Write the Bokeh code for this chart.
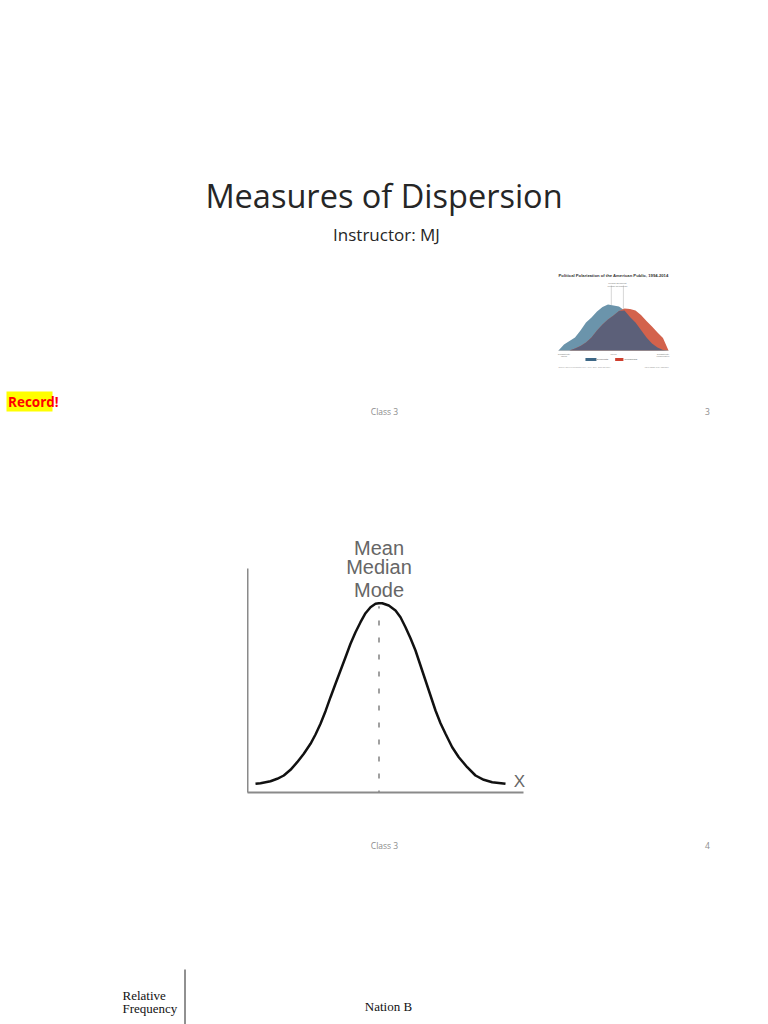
import numpy as np
from bokeh.plotting import figure
from bokeh.models import Range1d, LinearAxis, Spacer, FixedTicker
from bokeh.layouts import column, row
from bokeh.core.properties import value
from bokeh.embed import file_html
from bokeh.resources import INLINE

# ---------------- data ----------------
# Slide 4: bell curve (x = distance from vertical axis, y = height above horizontal axis)
bell_x = [8, 13, 23, 29.7, 36.3, 43, 49.7, 56.3, 63, 68, 73, 78, 83, 88, 93, 98,
          103, 108, 113, 118, 123, 128, 131.3, 134.7, 141.3, 148, 153, 158, 163,
          168, 173, 178, 183, 188, 193, 198, 204.7, 211.3, 219.7, 228, 236.3,
          244.7, 258]
bell_y = [8.7, 9.3, 11.3, 13.7, 17, 22.7, 30.3, 38.7, 48.7, 58, 68.7, 81.3, 95.3,
          108.7, 122, 135.3, 148.7, 160.3, 170.3, 179.3, 185.3, 188.7, 189.3,
          189.3, 187, 182, 175.3, 165.3, 154.3, 142, 127, 112, 97, 82, 69.3,
          58.7, 45.3, 35.3, 25.3, 17, 12.7, 10.3, 8.7]
center_x = 131.5
center_labels = ["Mean", "Median", "Mode"]
x_axis_text = "X"

# Slide 3 thumbnail: Pew "Political Polarization of the American Public, 1994-2014"
ideology = list(range(-10, 11))
dem_share = [0, 0.6, 0.95, 1.3, 2.0, 2.8, 3.3, 3.9, 4.35, 4.6, 4.5, 4.4, 4.0,
             3.35, 2.8, 2.05, 1.3, 0.7, 0.3, 0.05, 0]
rep_share = [0, 0, 0, 0.2, 0.45, 0.8, 1.3, 2.0, 2.6, 3.1, 3.5, 3.95, 4.2, 4.15,
             4.0, 3.55, 2.95, 2.4, 1.8, 1.25, 0]
median_dem = -0.4
median_rep = 1.8

# texts
title_text = "Measures of Dispersion"
subtitle_text = "Instructor: MJ"
record_text = "Record!"
footer_text = "Class 3"

# ---------------- helpers ----------------
W = 768
SANS = value("Open Sans")


def blank(w, h, x0, x1, y_top, y_bot):
    p = figure(width=w, height=h, x_range=Range1d(x0, x1),
               y_range=Range1d(y_bot, y_top), output_backend="svg",
               toolbar_location=None, x_axis_type=None, y_axis_type=None,
               min_border=0)
    p.outline_line_color = None
    p.background_fill_color = "white"
    p.border_fill_color = "white"
    return p


# ---------------- header (slide 3 top) ----------------
head = blank(W, 270, 0, 768, 0, 270)
head.text(x=[383.5], y=[195], text=[title_text], text_font=SANS,
          text_font_size="32.5px", text_align="center",
          text_baseline="alphabetic", text_color="#262626")
head.text(x=[386], y=[234], text=[subtitle_text], text_font=SANS,
          text_font_size="17px", text_align="center",
          text_baseline="alphabetic", text_color="#262626")

# ---------------- thumbnail chart ----------------
thumb = figure(width=120, height=102, x_range=Range1d(-10.91, 10.91),
               y_range=Range1d(-2.2, 8.0), output_backend="svg",
               toolbar_location=None, x_axis_type=None, y_axis_type=None,
               min_border=0)
thumb.outline_line_color = None
ideo = np.array(ideology, dtype=float)
dem = np.array(dem_share)
rep = np.array(rep_share)
overlap = np.minimum(dem, rep)
thumb.varea(x=ideo, y1=0, y2=dem, fill_color="#6b94ab")
thumb.varea(x=ideo, y1=0, y2=rep, fill_color="#d3624c")
thumb.varea(x=ideo, y1=0, y2=overlap, fill_color="#5c6079")
thumb.segment(x0=[ideo[0]], y0=[0], x1=[ideo[-1]], y1=[0],
              line_color="#999999", line_width=0.5)
med_x = [median_dem, median_rep]
med_top = [float(np.interp(median_dem, ideo, dem)), float(np.interp(median_rep, ideo, rep))]
thumb.segment(x0=med_x, y0=[6.5, 6.5], x1=med_x, y1=med_top,
              line_color="#bbbbbb", line_width=0.6)
thumb.text(x=[0], y=[7.5],
           text=["Political Polarization of the American Public, 1994-2014"],
           text_font=value("Liberation Sans"), text_font_style="bold",
           text_font_size="4.2px", text_align="center",
           text_baseline="middle", text_color="#333333")
thumb.text(x=[0.7, 0.7], y=[6.75, 6.45],
           text=["Median Democrat", "Median Republican"],
           text_font=value("Liberation Sans"), text_font_size="2.3px",
           text_align="center", text_baseline="middle", text_color="#777777")
thumb.text(x=[-9.0, -9.0, 0, 9.0, 9.0], y=[-0.35, -0.6, -0.35, -0.35, -0.6],
           text=["Consistently", "liberal", "Mixed", "Consistently", "conservative"],
           text_font=value("Liberation Sans"), text_font_size="2.3px",
           text_align="center", text_baseline="middle", text_color="#777777")
thumb.quad(left=[-5.1, 0.3], right=[-3.1, 1.8], top=[-0.75, -0.75],
           bottom=[-1.05, -1.05], fill_color=["#3d6786", "#cf3f2e"],
           line_color=None)
thumb.text(x=[-3.0, 2.0], y=[-0.9, -0.9], text=["Democrats", "Republicans"],
           text_font=value("Liberation Sans"), text_font_size="2.3px",
           text_align="left", text_baseline="middle", text_color="#555555")
thumb.text(x=[-10], y=[-1.7],
           text=["Source: Surveys conducted 1994, 1999, 2004, 2011 and 2014."],
           text_font=value("Liberation Sans"), text_font_size="1.9px",
           text_align="left", text_baseline="middle", text_color="#999999")
thumb.text(x=[10], y=[-1.7], text=["PEW RESEARCH CENTER"],
           text_font=value("Liberation Sans"), text_font_size="1.9px",
           text_align="right", text_baseline="middle", text_color="#999999")

thumb_row = row(Spacer(width=553, height=102), thumb, Spacer(width=95, height=102))

# ---------------- middle (Record!, footer slide 3) ----------------
mid = blank(W, 163, 0, 768, 372, 535)
mid.quad(left=[6], right=[52], top=[391], bottom=[411], fill_color="#ffff00",
         line_color=None)
mid.text(x=[7.5], y=[401.5], text=[record_text], text_font=SANS,
         text_font_style="bold", text_font_size="13.5px", text_align="left",
         text_baseline="alphabetic", text_color="#ff0000")
mid.text(x=[384, 707], y=[411, 411], text=[footer_text, "3"], text_font=SANS,
         text_font_size="8.5px", text_align="center", text_baseline="middle",
         text_color="#8c8c8c")

# ---------------- bell curve (slide 4) ----------------
bell = figure(frame_width=283, frame_height=257, x_range=Range1d(0, 283),
              y_range=Range1d(0, 257), output_backend="svg",
              toolbar_location=None, x_axis_type=None, y_axis_type=None,
              min_border=0, min_border_bottom=8)
bell.outline_line_color = None
for ax, place, bnds in ((LinearAxis(), "left", (0, 224)),
                        (LinearAxis(), "below", (0, 276))):
    ax.bounds = bnds
    ax.ticker = FixedTicker(ticks=[])
    ax.axis_line_color = "#8a8a8a"
    ax.axis_line_width = 2
    ax.major_tick_line_color = None
    ax.minor_tick_line_color = None
    ax.major_tick_out = 0
    ax.minor_tick_out = 0
    ax.major_tick_in = 0
    ax.major_label_standoff = 0
    bell.add_layout(ax, place)
peak = max(bell_y)
bell.segment(x0=[center_x], y0=[-3], x1=[center_x], y1=[peak - 3],
             line_color="#a0a0a0", line_width=2, line_dash="5 12")
bell.line(x=bell_x, y=bell_y, line_color="#111111", line_width=2.5)
bell.text(x=[center_x] * 3, y=[245, 226, 203], text=center_labels,
          text_font=value("Liberation Sans"), text_font_size="20px",
          text_align="center", text_baseline="alphabetic",
          text_color="#666666")
bell.text(x=[272], y=[11], text=[x_axis_text],
          text_font=value("Liberation Sans"), text_font_size="17px",
          text_align="center", text_baseline="middle", text_color="#666666")

bell_row = row(Spacer(width=247, height=265), bell, Spacer(width=238, height=265))

# ---------------- bottom (footer slide 4, slide 5 top) ----------------
bot = blank(W, 224, 0, 768, 800, 1024)
bot.text(x=[384, 707], y=[845, 845], text=[footer_text, "4"], text_font=SANS,
         text_font_size="8.5px", text_align="center", text_baseline="middle",
         text_color="#8c8c8c")
bot.text(x=[122, 122], y=[994.5, 1007.5], text=["Relative", "Frequency"],
         text_font=value("Liberation Serif"), text_font_size="13px",
         text_align="left", text_baseline="alphabetic", text_color="#111111")
bot.segment(x0=[184.5], y0=[969], x1=[184.5], y1=[1024], line_color="#222222",
            line_width=1)
bot.text(x=[388], y=[1006], text=["Nation B"],
         text_font=value("Liberation Serif"), text_font_size="13px",
         text_align="center", text_baseline="alphabetic", text_color="#111111")

layout = column(head, thumb_row, mid, bell_row, bot)
open("out.html", "w").write(file_html(layout, INLINE))
